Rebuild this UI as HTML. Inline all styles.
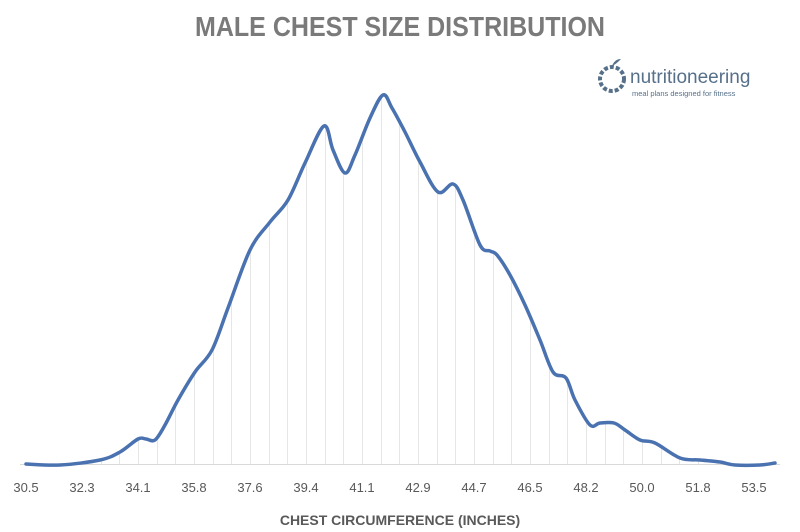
<!DOCTYPE html>
<html><head><meta charset="utf-8"><style>
body{margin:0;background:#fff;}
svg{display:block;font-family:"Liberation Sans",sans-serif;}
</style></head><body>
<svg id="s" width="800" height="532" viewBox="0 0 800 532">
<rect width="800" height="532" fill="#fff"/>
<text x="400" y="36" text-anchor="middle" font-size="28" font-weight="bold" fill="#7a7a7a" textLength="410" lengthAdjust="spacingAndGlyphs">MALE CHEST SIZE DISTRIBUTION</text>
<defs><clipPath id="c"><path id="cp"/></clipPath></defs>
<g id="grid" clip-path="url(#c)" stroke="#e6e6e6" stroke-width="1"></g>
<line x1="20" y1="464.5" x2="780" y2="464.5" stroke="#d9d9d9"/>
<path id="curve" fill="none" stroke="#4a72b0" stroke-width="3.5" stroke-linejoin="round" stroke-linecap="round"/>
<g font-size="13" fill="#595959" text-anchor="middle" id="xl"></g>
<text x="400" y="525" text-anchor="middle" font-size="14" font-weight="bold" fill="#595959">CHEST CIRCUMFERENCE (INCHES)</text>
<g transform="translate(612,79)">
<circle cx="0" cy="0" r="12" fill="none" stroke="#56708a" stroke-width="4" stroke-dasharray="4 2"/>
<path d="M0,-13 C2,-18 5,-20 9,-20 C6,-17 4,-15 0,-13Z" fill="#56708a"/>
</g>
<text x="630" y="83" font-size="19" fill="#56708a">nutritioneering</text>
<text x="632" y="96" font-size="7.5" fill="#56708a">meal plans designed for fitness</text>
</svg>
<script>
var pts=[[26,464],[60,465],[100,460],[120,452],[138,439],[146,439],[155,440],[165,425],[178,400],[195,372],[212,350],[228,308],[250,250],[270,222],[288,200],[305,163],[324,126],[333,150],[345,173],[355,155],[370,118],[383,95],[392,108],[405,132],[420,162],[438,192],[453,184],[463,200],[480,245],[490,251],[497,255],[510,275],[525,305],[540,340],[553,372],[566,378],[575,400],[590,425],[600,423],[614,423],[625,430],[640,440],[655,443],[680,458],[700,460],[720,462],[735,465],[760,465],[775,463]];
var d="M"+pts[0][0]+","+pts[0][1];
for(var i=0;i<pts.length-1;i++){var p0=pts[Math.max(0,i-1)],p1=pts[i],p2=pts[i+1],p3=pts[Math.min(pts.length-1,i+2)];
var c1x=p1[0]+(p2[0]-p0[0])/6,c1y=p1[1]+(p2[1]-p0[1])/6,c2x=p2[0]-(p3[0]-p1[0])/6,c2y=p2[1]-(p3[1]-p1[1])/6;
d+=" C"+c1x+","+c1y+" "+c2x+","+c2y+" "+p2[0]+","+p2[1];}
document.getElementById("curve").setAttribute("d",d);
document.getElementById("cp").setAttribute("d",d+" L775,465 L26,465Z");
var g=document.getElementById("grid"),ns="http://www.w3.org/2000/svg";
for(var x=26;x<780;x+=56/3){var l=document.createElementNS(ns,"line");var xx=Math.round(x)+0.5;l.setAttribute("x1",xx);l.setAttribute("x2",xx);l.setAttribute("y1",60);l.setAttribute("y2",465);g.appendChild(l);}
var labs=["30.5","32.3","34.1","35.8","37.6","39.4","41.1","42.9","44.7","46.5","48.2","50.0","51.8","53.5"];
var xl=document.getElementById("xl");
labs.forEach(function(t,i){var e=document.createElementNS(ns,"text");e.setAttribute("x",26+56*i);e.setAttribute("y",492);e.textContent=t;xl.appendChild(e);});
</script>
</body></html>
